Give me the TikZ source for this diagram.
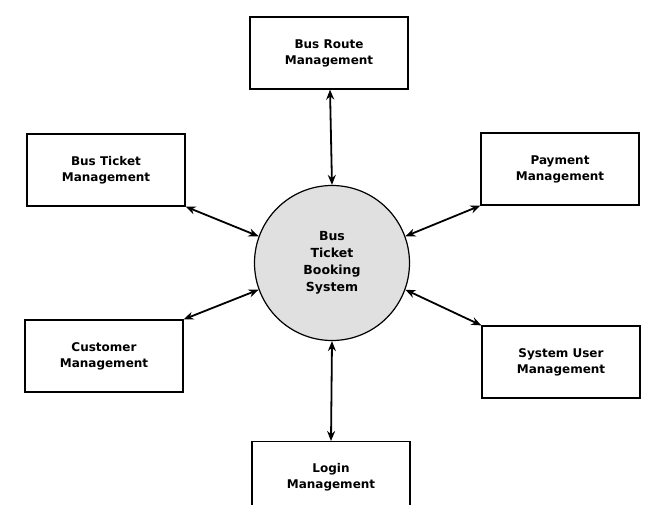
\documentclass[tikz,border=0pt]{standalone}
\usepackage{fontspec}
\setmainfont{DejaVu Sans}
\usetikzlibrary{arrows.meta}
\begin{document}
\begin{tikzpicture}[x=1pt,y=-1pt,
  box/.style={draw,line width=1.2pt,minimum width=158pt,minimum height=72pt,align=center,font=\bfseries\fontsize{12}{16}\selectfont},
  proc/.style={draw,line width=1.2pt,circle,fill=black!12,minimum size=155pt,align=center,font=\bfseries\fontsize{12.5}{17}\selectfont},
  conn/.style={line width=1.8pt,{Stealth[length=10pt,width=8pt]}-{Stealth[length=10pt,width=8pt]}}]
\useasboundingbox[fill=white] (0,0) rectangle (662,504);
\node[proc] (c) at (332,263) {Bus\\Ticket\\Booking\\System};
\node[box] (br) at (329,53) {Bus Route\\Management};
\node[box] (bt) at (106,170) {Bus Ticket\\Management};
\node[box] (pm) at (560,169) {Payment\\Management};
\node[box] (cm) at (104,356) {Customer\\Management};
\node[box] (su) at (561,362) {System User\\Management};
\node[box,anchor=north] (lg) at (331,441) {Login\\Management};
\draw[conn] (br.south -| 330,0) -- (c.north);
\draw[conn] (c.south) -- (lg.north);
\draw[conn] (bt.south east) -- (c.160);
\draw[conn] (pm.south west) -- (c.20);
\draw[conn] (cm.north east) -- (c.200);
\draw[conn] (su.north west) -- (c.340);
\end{tikzpicture}
\end{document}
